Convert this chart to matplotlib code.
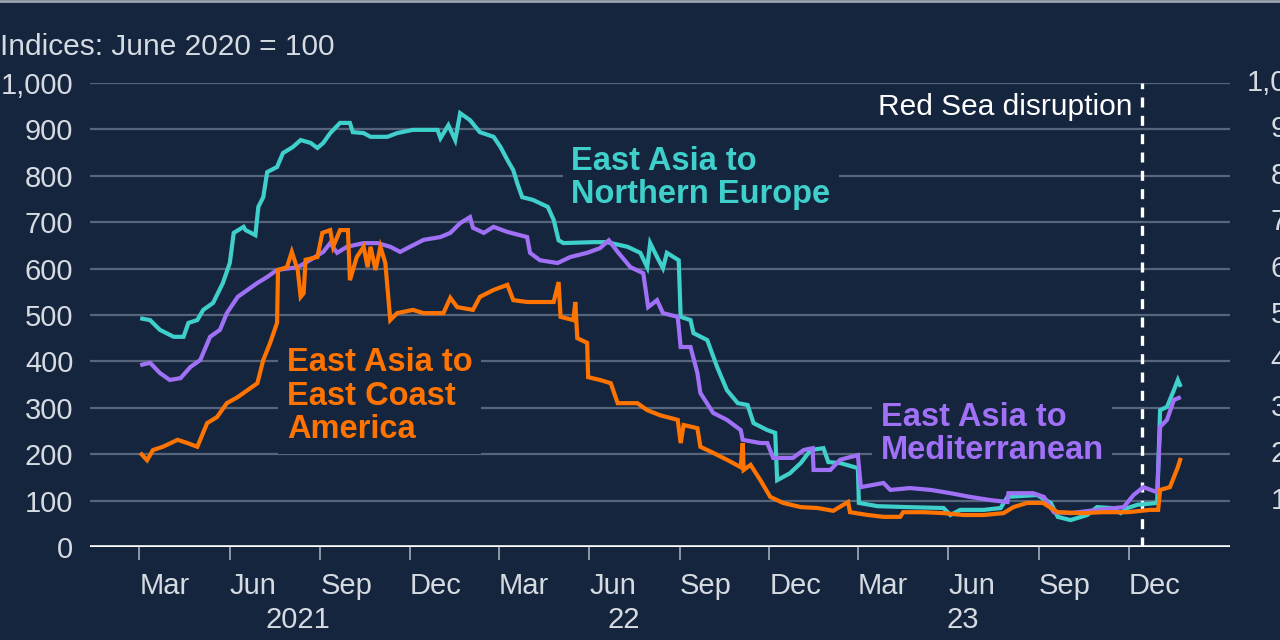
import pandas as pd
import matplotlib
matplotlib.use("Agg")
import matplotlib.pyplot as plt
from matplotlib.lines import Line2D
from matplotlib.ticker import FuncFormatter

plt.rcParams['font.family'] = ['Liberation Sans', 'DejaVu Sans']

BG = '#15253e'
TXT = '#d6dbe2'
GRID = '#56657b'
CYAN = '#40d0cc'
PURPLE = '#a071f6'
ORANGE = '#ff7400'

start = pd.Timestamp('2021-03-01')

# days after 1 March 2021 / index values (June 2020 = 100)
neu_days = [1, 11, 21, 35, 45, 50, 59, 65, 75, 85, 92, 96, 106, 108, 118, 121, 126, 130, 140,
            146, 156, 164, 174, 181, 187, 194, 204, 214, 217, 228, 235, 252, 262, 278, 303, 306,
            314, 321, 326, 336, 346, 360, 367, 374, 380, 384, 389, 400, 415, 421, 426, 431, 461,
            475, 496, 509, 516, 519, 526, 532, 536, 548, 550, 560, 563, 577, 587, 597, 608, 618,
            624, 638, 646, 648, 661, 672, 682, 695, 700, 712, 730, 731, 750, 780, 817, 824, 834,
            858, 875, 882, 912, 926, 933, 946, 963, 973, 987, 997, 1004, 1014, 1034, 1037, 1044,
            1051, 1055, 1058]
neu_vals = [493, 489, 468, 453, 453, 483, 489, 511, 526, 569, 612, 677, 690, 683, 672, 733, 754,
            808, 819, 849, 862, 877, 871, 860, 871, 892, 914, 914, 894, 892, 884, 884, 892, 899,
            899, 881, 909, 877, 935, 920, 894, 884, 862, 834, 812, 784, 754, 748, 733, 705, 661,
            655, 657, 657, 647, 634, 603, 655, 625, 601, 634, 618, 496, 489, 461, 446, 388, 338,
            310, 306, 267, 252, 246, 144, 159, 181, 209, 213, 183, 181, 170, 95, 88, 86, 84, 69,
            80, 80, 84, 108, 112, 95, 65, 58, 69, 86, 84, 73, 84, 91, 95, 295, 302, 338, 360, 345]

med_days = [1, 11, 21, 31, 42, 52, 62, 72, 82, 89, 100, 110, 120, 130, 140, 161, 174, 187, 194,
            201, 211, 228, 242, 255, 265, 275, 289, 306, 316, 326, 336, 339, 350, 360, 374, 394,
            397, 407, 425, 438, 455, 468, 477, 486, 499, 512, 517, 526, 532, 547, 550, 560, 567,
            570, 583, 597, 611, 613, 631, 638, 644, 664, 675, 684, 685, 702, 712, 719, 730, 733,
            756, 763, 783, 804, 824, 844, 865, 882, 883, 908, 919, 929, 946, 973, 1000, 1010, 1020,
            1034, 1037, 1044, 1051, 1058]
med_vals = [392, 397, 375, 360, 364, 388, 403, 453, 468, 504, 539, 554, 569, 582, 597, 603, 619,
            636, 655, 634, 647, 655, 655, 647, 636, 647, 662, 668, 677, 698, 711, 688, 677, 690,
            679, 668, 634, 618, 612, 625, 634, 644, 661, 636, 603, 590, 517, 532, 504, 496, 431,
            431, 375, 332, 289, 274, 252, 231, 224, 224, 192, 192, 209, 213, 166, 166, 188, 192,
            198, 129, 138, 123, 127, 123, 116, 108, 101, 97, 116, 116, 108, 75, 73, 80, 86, 112,
            129, 118, 259, 274, 317, 323]

eca_days = [1, 8, 14, 24, 39, 49, 59, 69, 79, 89, 100, 110, 120, 126, 133, 140, 141, 150, 155,
            161, 164, 167, 169, 181, 186, 194, 197, 204, 212, 214, 221, 228, 232, 235, 240, 245,
            250, 255, 262, 278, 289, 309, 316, 323, 339, 346, 360, 374, 380, 394, 421, 426, 428,
            441, 443, 445, 455, 456, 468, 479, 486, 506, 516, 529, 547, 550, 553, 567, 570, 583,
            597, 611, 613, 614, 621, 631, 641, 654, 672, 689, 705, 720, 722, 740, 756, 773, 776,
            797, 817, 837, 858, 878, 888, 902, 918, 933, 959, 979, 1004, 1027, 1035, 1037, 1047,
            1055, 1058]
eca_vals = [203, 187, 209, 216, 231, 224, 216, 267, 280, 310, 323, 338, 353, 403, 440, 483, 597,
            603, 636, 597, 539, 547, 619, 625, 677, 683, 647, 683, 683, 575, 625, 647, 603, 647,
            597, 647, 612, 489, 504, 511, 504, 504, 537, 517, 511, 539, 554, 565, 532, 528, 528,
            571, 496, 489, 528, 450, 440, 366, 360, 353, 310, 310, 295, 284, 274, 224, 263, 256,
            216, 203, 188, 172, 224, 166, 177, 144, 108, 95, 86, 84, 78, 97, 75, 69, 65, 65, 75,
            75, 73, 69, 69, 73, 86, 95, 95, 75, 73, 75, 75, 80, 80, 123, 129, 172, 192]

series_labels = ['East Asia to\nNorthern Europe', 'East Asia to\nMediterranean',
                 'East Asia to\nEast Coast\nAmerica']
event_day = 1019
event_label = 'Red Sea disruption'
y_ticks = list(range(0, 1001, 100))
tick_months = pd.date_range('2021-03-01', '2023-12-01', freq='3MS')
year_days = [161, 492, 837]
year_labels = ['2021', '22', '23']


def to_dates(days):
    return start + pd.to_timedelta(days, unit='D')


fig = plt.figure(figsize=(12.8, 6.4), dpi=100, facecolor=BG)
ax = fig.add_axes([90 / 1280, 93 / 640, 1140 / 1280, 464 / 640], facecolor=BG)

for days, vals, col in [(neu_days, neu_vals, CYAN), (med_days, med_vals, PURPLE),
                        (eca_days, eca_vals, ORANGE)]:
    ax.plot(to_dates(days), vals, color=col, lw=3.0, zorder=3,
            solid_joinstyle='miter', solid_capstyle='butt')

ax.set_xlim(to_dates([-50])[0], to_dates([1108])[0])
ax.set_ylim(0, 1000)

ax.set_yticks(y_ticks)
ax.yaxis.set_major_formatter(FuncFormatter(lambda v, p: f'{v:,.0f}'))
ax.grid(axis='y', color=GRID, lw=1.6, zorder=0.5)
ax.set_axisbelow(True)
ax.axhline(0, color='white', lw=2.6, zorder=4)

ax.set_xticks(tick_months)
ax.set_xticklabels([d.strftime('%b') for d in tick_months], ha='left')
ax.tick_params(axis='x', length=9, width=1.4, color='#8d98a8', pad=9,
               labelsize=21, labelcolor=TXT)
ax.tick_params(axis='y', length=0, pad=12, labelsize=21, labelcolor=TXT)
for s in ax.spines.values():
    s.set_visible(False)

# right-hand scale, right-aligned and running off the edge of the picture
for v in y_ticks:
    ax.text(1 + 89 / 1140, v, f'{v:,.0f}', transform=ax.get_yaxis_transform(),
            ha='right', va='center', fontsize=21, color=TXT, clip_on=False)

for d, t in zip(year_days, year_labels):
    ax.text(to_dates([d])[0], -0.158, t, transform=ax.get_xaxis_transform(),
            ha='center', va='center', fontsize=21, color=TXT)

ax.axvline(to_dates([event_day])[0], color='white', lw=2.4, ls=(0, (3, 2.5)), zorder=2.5)
ax.text(to_dates([event_day - 10])[0], 948, event_label, ha='right', va='center',
        fontsize=21.5, color='white')

lab_kw = dict(fontsize=23.5, fontweight='bold', va='center', ha='left', linespacing=1.1,
              zorder=1.5, bbox=dict(facecolor=BG, edgecolor='none', pad=6))
ax.text(to_dates([439])[0], 795, series_labels[0], color=CYAN, **lab_kw)
ax.text(to_dates([753])[0], 243, series_labels[1], color=PURPLE, **lab_kw)
ax.text(to_dates([150])[0], 325, series_labels[2], color=ORANGE, **lab_kw)

fig.text(0.0, 1 - 47 / 640, 'Indices: June 2020 = 100', ha='left', va='center',
         fontsize=21.5, color=TXT)
fig.add_artist(Line2D([0, 1], [0.998, 0.998], color='#9aa3ae', lw=2, transform=fig.transFigure))

fig.savefig('out.png', dpi=100, facecolor=BG)
